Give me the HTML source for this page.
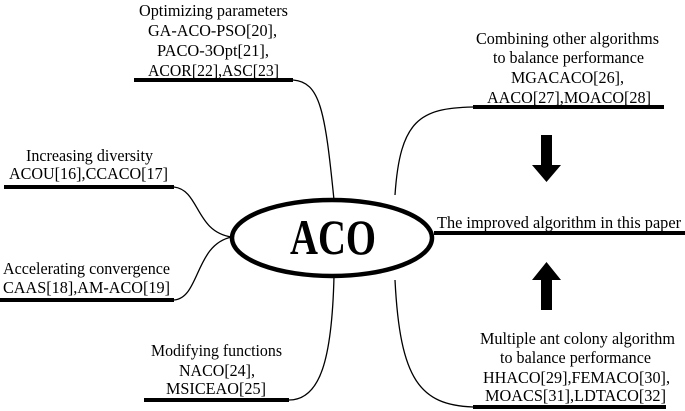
<!DOCTYPE html>
<html><head><style>html,body{margin:0;padding:0;background:#fff}svg{display:block}</style></head><body>
<svg width="685" height="411" viewBox="0 0 685 411" xmlns="http://www.w3.org/2000/svg" font-family="Liberation Serif, serif" font-size="17" fill="#000">
<g stroke="#000" stroke-width="4" fill="none">
<line x1="134" y1="80" x2="293" y2="80"/>
<line x1="473" y1="107" x2="664" y2="107"/>
<line x1="434" y1="233" x2="685" y2="233"/>
<line x1="473" y1="407" x2="666" y2="407"/>
<line x1="144" y1="400" x2="289" y2="400"/>
<line x1="4" y1="187" x2="174" y2="187"/>
<line x1="0" y1="300" x2="174" y2="300"/>
<ellipse cx="332" cy="238" rx="100" ry="38" stroke-width="4.5"/>
</g>
<g stroke="#000" stroke-width="1.3" fill="none">
<path d="M293 80 C320 82 325 110 334 200"/>
<path d="M473 107 C420 108 400 120 395 195"/>
<path d="M395 280 C400 380 420 405 473 407"/>
<path d="M334 276 C332 360 320 400 289 400"/>
<path d="M174 187 C200 190 195 232 232 237"/>
<path d="M174 300 C200 298 195 244 232 237"/>
</g>
<polygon points="541,135 552,135 552,165 561,165 546.5,182 532,165 541,165"/>
<polygon points="541,310 552,310 552,280 561,280 546.5,262 532,280 541,280"/>
<text x="290" y="254" font-size="50" font-weight="bold" textLength="86" lengthAdjust="spacingAndGlyphs">ACO</text>
<g lengthAdjust="spacingAndGlyphs">
<text x="139" y="16" textLength="149" lengthAdjust="spacingAndGlyphs">Optimizing parameters</text>
<text x="148" y="36" textLength="129" lengthAdjust="spacingAndGlyphs">GA-ACO-PSO[20],</text>
<text x="157" y="56" textLength="112" lengthAdjust="spacingAndGlyphs">PACO-3Opt[21],</text>
<text x="148" y="76" textLength="131" lengthAdjust="spacingAndGlyphs">ACOR[22],ASC[23]</text>
<text x="476" y="44" textLength="183" lengthAdjust="spacingAndGlyphs">Combining other algorithms</text>
<text x="493" y="63" textLength="151" lengthAdjust="spacingAndGlyphs">to balance performance</text>
<text x="511" y="83" textLength="113" lengthAdjust="spacingAndGlyphs">MGACACO[26],</text>
<text x="487" y="103" textLength="164" lengthAdjust="spacingAndGlyphs">AACO[27],MOACO[28]</text>
<text x="437" y="228" textLength="244" lengthAdjust="spacingAndGlyphs">The improved algorithm in this paper</text>
<text x="480" y="344" textLength="195" lengthAdjust="spacingAndGlyphs">Multiple ant colony algorithm</text>
<text x="500" y="363" textLength="151" lengthAdjust="spacingAndGlyphs">to balance performance</text>
<text x="483" y="383" textLength="187" lengthAdjust="spacingAndGlyphs">HHACO[29],FEMACO[30],</text>
<text x="485" y="401" textLength="181" lengthAdjust="spacingAndGlyphs">MOACS[31],LDTACO[32]</text>
<text x="151" y="356" textLength="131" lengthAdjust="spacingAndGlyphs">Modifying functions</text>
<text x="179" y="376" textLength="76" lengthAdjust="spacingAndGlyphs">NACO[24],</text>
<text x="166" y="394" textLength="100" lengthAdjust="spacingAndGlyphs">MSICEAO[25]</text>
<text x="26" y="161" textLength="127" lengthAdjust="spacingAndGlyphs">Increasing diversity</text>
<text x="9" y="179" textLength="159" lengthAdjust="spacingAndGlyphs">ACOU[16],CCACO[17]</text>
<text x="3" y="274" textLength="167" lengthAdjust="spacingAndGlyphs">Accelerating convergence</text>
<text x="3" y="293" textLength="167" lengthAdjust="spacingAndGlyphs">CAAS[18],AM-ACO[19]</text>
</g>
</svg>
</body></html>
